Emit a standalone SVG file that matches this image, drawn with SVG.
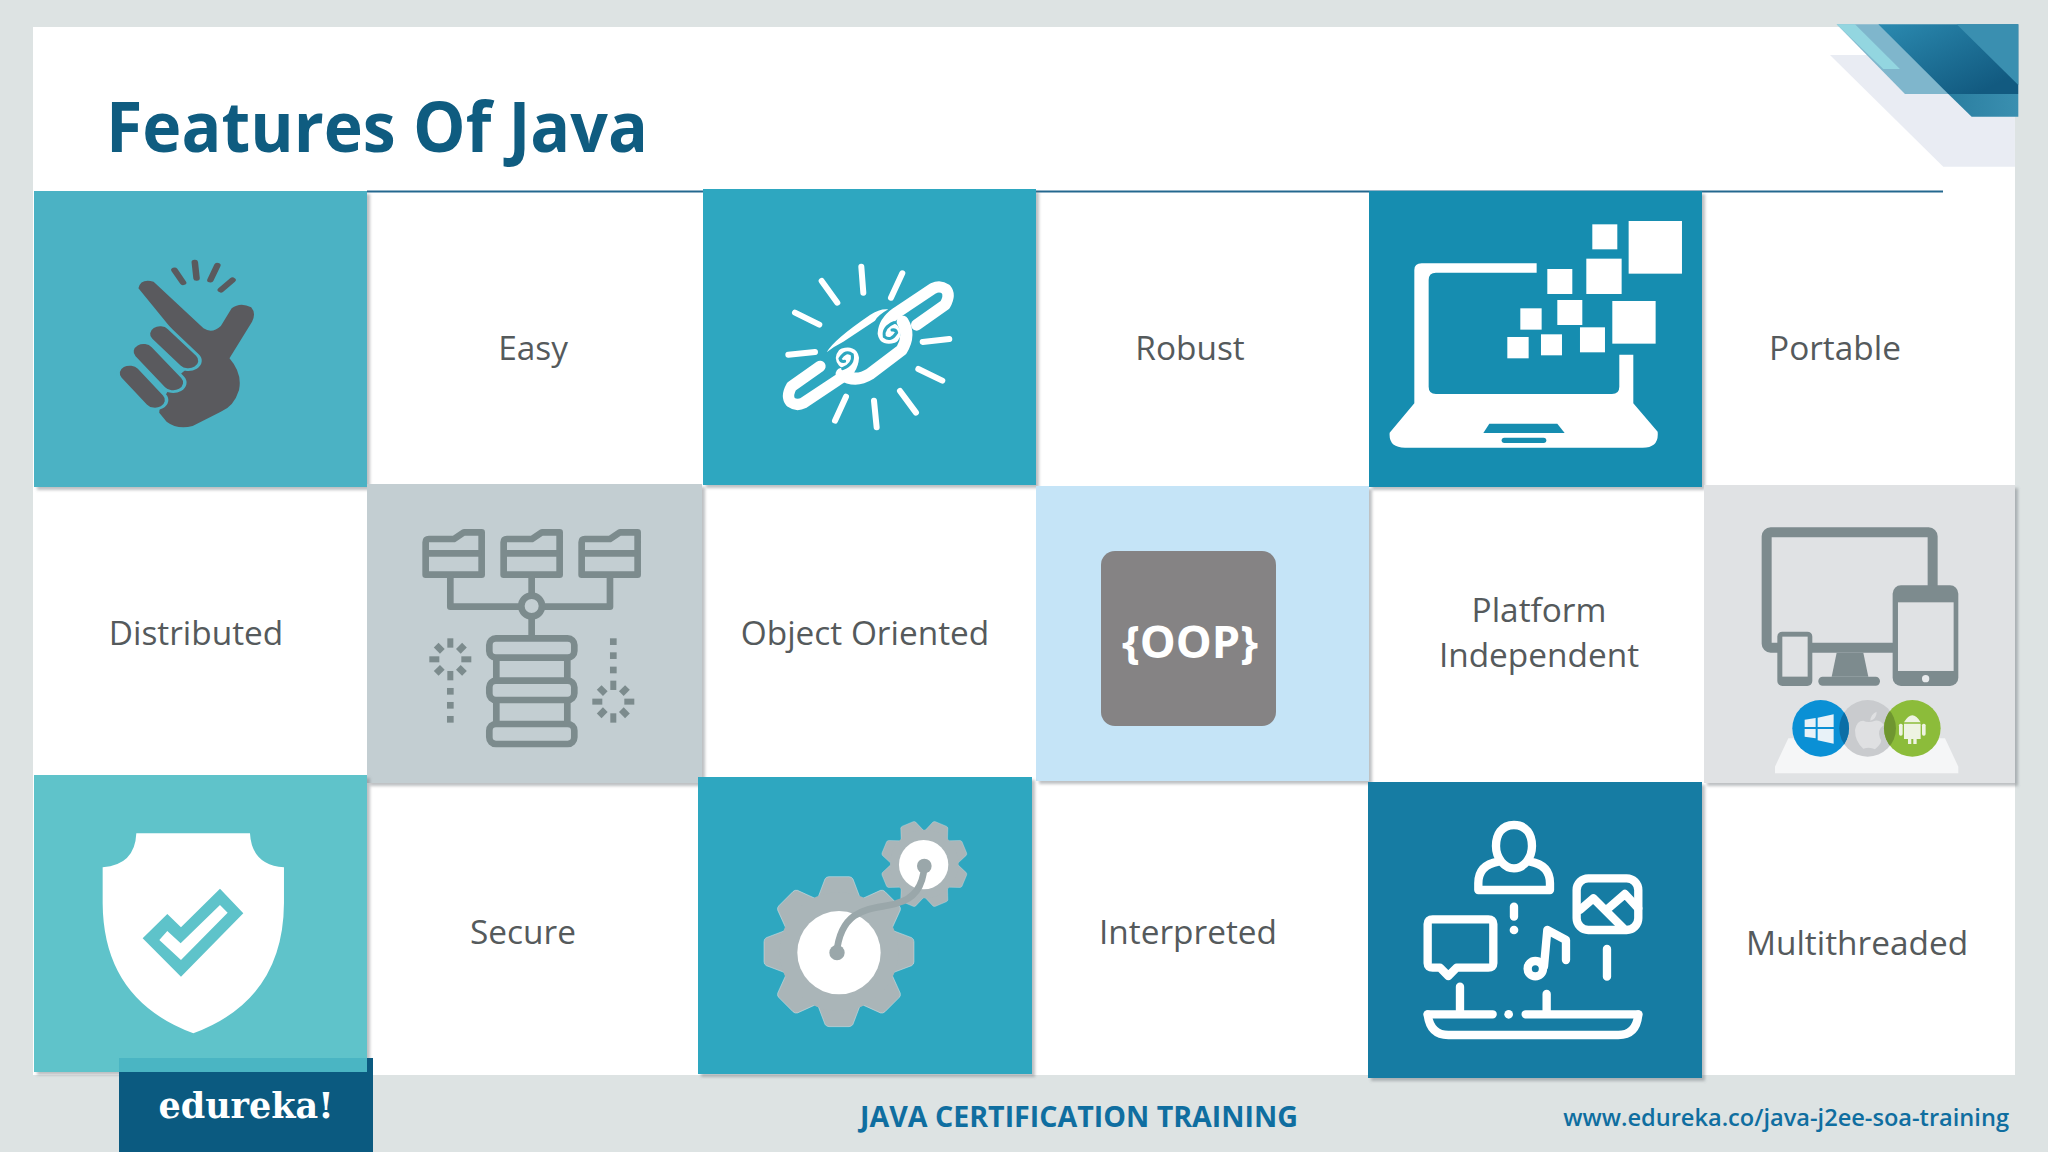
<svg xmlns="http://www.w3.org/2000/svg" xmlns:xlink="http://www.w3.org/1999/xlink" width="2048" height="1152" viewBox="0 0 2048 1152">
<style>
.lbl{font-family:"Open Sans","Noto Sans","Liberation Sans",sans-serif;font-size:33.400px;fill:#555a5c;text-anchor:middle}
.card{filter:url(#sh)}
.w{fill:#fff}
.sw{fill:none;stroke:#fff;stroke-linecap:round;stroke-linejoin:round}
.net{fill:none;stroke:#7c8b8d;stroke-width:20;stroke-linejoin:round}
.nf{fill:#7c8b8d}
.dev{fill:#7d8b8e}
.gear{fill:#aab5b8;stroke:#d8e6ea;stroke-width:1.5}
</style>
<defs>
<filter id="sh" x="-5%" y="-5%" width="110%" height="110%"><feDropShadow dx="3" dy="3" stdDeviation="1.5" flood-color="#6f7478" flood-opacity=".45"/></filter>
<linearGradient id="dk" x1="0" y1="0" x2="1" y2="1"><stop offset="0" stop-color="#2b8ab0"/><stop offset=".85" stop-color="#125a80"/></linearGradient>
<linearGradient id="lt" x1="0" y1="0" x2="1" y2="0"><stop offset="0" stop-color="#2a7ea0"/><stop offset="1" stop-color="#3a8fb0"/></linearGradient>
<g id="spark" class="nf">
<rect x="-9" y="-63" width="18" height="28"/><rect x="-9" y="35" width="18" height="28"/><rect x="-63" y="-9" width="30" height="18"/><rect x="33" y="-9" width="30" height="18"/>
<rect x="-10" y="-60" width="20" height="26" transform="rotate(45)"/><rect x="-10" y="-60" width="20" height="26" transform="rotate(135)"/><rect x="-10" y="-60" width="20" height="26" transform="rotate(225)"/><rect x="-10" y="-60" width="20" height="26" transform="rotate(315)"/>
</g>
<g id="folder"><path class="net" d="M207 177H282L312 157H365V284H197V187Q197 177 207 177Z"/><path class="net" d="M197 220H365"/></g>
<path id="tooth" d="M-62-165L-42-218Q-38-225-30-225H30Q38-225 42-218L62-165Z"/>
<g id="gearshape" class="gear"><use xlink:href="#tooth"/><use xlink:href="#tooth" transform="rotate(45)"/><use xlink:href="#tooth" transform="rotate(90)"/><use xlink:href="#tooth" transform="rotate(135)"/><use xlink:href="#tooth" transform="rotate(180)"/><use xlink:href="#tooth" transform="rotate(225)"/><use xlink:href="#tooth" transform="rotate(270)"/><use xlink:href="#tooth" transform="rotate(315)"/><circle r="178" stroke="none"/></g>
<path id="ulink" class="sw" stroke-width="34" d="M650 405L735 345Q752 315 738 298Q720 285 700 295L590 368Q552 395 550 430Q553 450 580 442Q590 430 580 418"/>
<path id="curl" fill="none" stroke="#2da7c0" stroke-width="9" stroke-linecap="round" d="M582 398Q548 412 553 440Q572 456 590 428Q588 418 576 420"/>
<clipPath id="cw"><circle cx="362" cy="745" r="85"/></clipPath>
<clipPath id="ca"><circle cx="637" cy="745" r="85"/></clipPath>
</defs>
<rect width="2048" height="1152" fill="#dde3e3"/>
<rect x="33" y="27" width="1982" height="1048" fill="#fff"/>
<g id="decor" transform="translate(1700 0) scale(.3333)">
<path fill="#e9ecf3" d="M390 165H945V500H730Z"/>
<path fill="#7fb6cc" d="M410 73H540L750 282H615Z"/>
<path fill="#93d6e0" d="M410 73H465L600 207H550Z"/>
<path fill="url(#lt)" d="M745 282H955V350H815Z"/>
<path fill="url(#dk)" d="M535 73H955V282H745Z"/>
<path fill="#3a8fb0" d="M770 73H955V255Z"/>
</g>
<text id="title" x="106" y="152" font-family="'Open Sans','Noto Sans',sans-serif" font-size="70" font-weight="700" fill="#0f5c80" textLength="542" lengthAdjust="spacingAndGlyphs">Features Of Java</text>
<path id="title-rule" d="M367 191.500H1943" stroke="#24688f" stroke-width="2"/>

<g id="easy-icon"><rect class="card" x="34" y="191" width="333" height="296" fill="#4bb2c4"/>
<g transform="translate(30 190) scale(.4337 .3333)">
<path fill="#5a5a5e" d="M250 295Q255 265 285 275L400 415Q420 432 440 408L465 355Q485 335 510 352Q522 370 512 395L460 505Q490 550 482 600Q470 650 440 665L375 708Q340 720 315 695L298 668L300 640L340 560L385 510Z"/>
<g fill="none" stroke-linecap="round">
<g stroke="#4bb2c4" stroke-width="62"><path d="M300 432L365 512"/><path d="M262 485L330 578"/><path d="M230 550L288 630"/></g>
<g stroke="#5a5a5e" stroke-width="46"><path d="M300 432L365 512"/><path d="M262 485L330 578"/><path d="M230 550L288 630"/></g>
<g stroke="#5a5a5e" stroke-width="15"><path d="M333 240L353 278"/><path d="M380 217L384 265"/><path d="M432 226L416 270"/><path d="M467 270L440 300"/></g>
</g></g></g>
<g id="easy"><text class="lbl" x="533" y="360">Easy</text></g>

<g id="robust-icon"><rect class="card" x="703" y="189" width="333" height="296" fill="#2da7c0"/>
<g transform="translate(700 190) scale(.3333)">
<g class="sw" stroke-width="18"><path d="M484 230L490 308"/><path d="M365 273L412 338"/><path d="M285 368L358 404"/><path d="M265 494L345 486"/><path d="M607 250L573 323"/><path d="M668 456L748 447"/><path d="M655 537L727 572"/><path d="M600 603L648 668"/><path d="M522 632L530 712"/><path d="M438 620L405 692"/></g>
<use xlink:href="#ulink"/><use xlink:href="#ulink" transform="rotate(180 505 467)"/>
<path class="sw" stroke-width="36" d="M608 395Q632 435 605 480L510 552Q465 580 425 552"/>
<path class="w" d="M380 487Q400 450 510 375Q540 355 565 358Q535 375 525 392L430 455Q400 470 380 487Z"/>
<use xlink:href="#curl"/><use xlink:href="#curl" transform="rotate(180 505 467)"/>
</g></g>
<g id="robust"><text class="lbl" x="1190" y="360">Robust</text></g>

<g id="portable-icon"><rect class="card" x="1369" y="191" width="333" height="296" fill="#168db0"/>
<g transform="translate(1360 190) scale(.3333)">
<path class="w" d="M163 240Q163 220 185 220H530V248H228Q206 248 206 270V590Q206 612 228 612H756Q778 612 778 590V494H820V640L893 725Q898 773 848 773H135Q85 773 89 728L163 640Z"/>
<path fill="#168db0" d="M388 701H592L614 729H370Z"/><rect x="425" y="743" width="134" height="16" rx="8" fill="#168db0"/>
<g class="w"><rect x="697" y="103" width="75" height="75"/><rect x="806" y="93" width="160" height="158"/><rect x="679" y="206" width="106" height="106"/><rect x="562" y="237" width="75" height="75"/><rect x="592" y="330" width="75" height="75"/><rect x="481" y="355" width="64" height="64"/><rect x="757" y="333" width="130" height="128"/><rect x="660" y="412" width="75" height="75"/><rect x="543" y="433" width="63" height="63"/><rect x="442" y="441" width="64" height="64"/></g>
</g></g>
<g id="portable"><text class="lbl" x="1835" y="360">Portable</text></g>

<g id="distributed"><text class="lbl" x="196" y="645">Distributed</text></g>
<g id="distributed-icon"><rect class="card" x="367" y="484" width="335" height="299" fill="#c3ced2"/>
<g transform="translate(360 480) scale(.3333)">
<use xlink:href="#folder"/><use xlink:href="#folder" x="234"/><use xlink:href="#folder" x="468"/>
<path class="net" d="M271 285V380H480M515 285V345M550 380H750V285M515 410V475"/>
<circle class="net" cx="515" cy="378" r="31"/>
<rect class="net" x="388" y="475" width="255" height="58" rx="20"/><rect class="net" x="388" y="602" width="255" height="58" rx="20"/><rect class="net" x="388" y="732" width="255" height="60" rx="20"/>
<path class="net" d="M409 533V602M622 533V602M409 660V732M622 660V732"/>
<use xlink:href="#spark" x="271" y="538"/><use xlink:href="#spark" x="760" y="665"/>
<g class="nf"><rect x="261" y="624" width="20" height="20"/><rect x="261" y="666" width="20" height="20"/><rect x="261" y="708" width="20" height="20"/><rect x="750" y="475" width="20" height="20"/><rect x="750" y="517" width="20" height="20"/><rect x="750" y="560" width="20" height="20"/></g>
</g></g>

<g id="object-oriented"><text class="lbl" x="865" y="645">Object Oriented</text></g>
<g id="oop-icon"><rect class="card" x="1036" y="486" width="333" height="295" fill="#c5e4f7"/>
<rect x="1101" y="551" width="175" height="175" rx="14" fill="#858384"/>
<text x="1122" y="658" font-family="'Open Sans','Noto Sans',sans-serif" font-size="44" font-weight="700" fill="#fff" textLength="136" lengthAdjust="spacingAndGlyphs">{OOP}</text></g>

<g id="platform-independent"><text class="lbl" x="1539" y="622">Platform</text><text class="lbl" x="1539" y="667">Independent</text></g>
<g id="platform-icon"><rect class="card" x="1704" y="485" width="311" height="298" fill="#e0e2e4"/>
<g transform="translate(1700 480) scale(.3333)">
<rect x="200" y="157" width="498" height="346" rx="12" fill="none" stroke="#7d8b8e" stroke-width="30"/>
<path class="dev" d="M410 518H490L505 590H395Z"/><rect class="dev" x="355" y="590" width="185" height="27" rx="13"/>
<rect class="dev" x="578" y="316" width="197" height="302" rx="25"/><rect x="594" y="367" width="167" height="206" fill="#e0e2e4"/><circle cx="677" cy="596" r="11" fill="#e8eaec"/>
<rect class="dev" x="232" y="455" width="105" height="163" rx="15"/><rect x="247" y="470" width="76" height="120" fill="#e0e2e4"/>
<path fill="#f5f6f7" d="M265 775H735L775 860V880H225V860Z"/>
<circle cx="503" cy="745" r="85" fill="#c9cbce"/>
<path fill="#dfe0e2" d="M511 722Q512 702 530 695Q530 716 511 722ZM490 722Q505 730 525 722Q540 720 552 735Q530 750 540 775Q552 785 525 808Q510 800 490 806Q465 785 465 750Q470 722 490 722Z"/>
<circle cx="362" cy="745" r="85" fill="#0a90d5"/>
<circle cx="637" cy="745" r="85" fill="#8cbc3a"/>
<circle cx="503" cy="745" r="85" fill="#0b6ea6" clip-path="url(#cw)"/>
<circle cx="503" cy="745" r="85" fill="#6f9630" clip-path="url(#ca)"/>
<path fill="#e8f2f8" d="M314 719L347 714V741H314ZM353 713L401 703V741H353ZM314 747H347V775L314 770ZM353 747H401V791L353 781Z"/>
<g fill="#eef3e2"><path d="M612 727Q637 685 662 727ZM612 731H662V777H650V792H640V777H634V792H624V777H612Z"/><rect x="597" y="731" width="11" height="36" rx="5"/><rect x="666" y="731" width="11" height="36" rx="5"/></g>
</g></g>

<g id="secure-icon"><rect class="card" x="34" y="775" width="333" height="297" fill="#5ec3ca"/>
<g transform="translate(30 770) scale(.3333)">
<path class="w" d="M319 190H660Q665 285 762 292V400Q760 690 490 790Q220 690 218 400V292Q315 285 319 190Z"/>
<path fill="#5ec3ca" d="M570 356L640 430L453 620L338 505L412 432L453 472Z"/>
<path class="w" d="M570 405L593 428L453 570L388 510L412 483L452 520Z"/>
</g></g>
<g id="secure"><text class="lbl" x="523" y="944">Secure</text></g>

<g id="interpreted-icon"><rect class="card" x="698" y="777" width="334" height="297" fill="#2da7c0"/>
<g transform="translate(690 770) scale(.3333)">
<use xlink:href="#gearshape" transform="translate(447 545)"/>
<use xlink:href="#gearshape" transform="translate(703 282) rotate(22.500) scale(.578)"/>
<circle cx="447" cy="548" r="125" fill="#fff"/><circle cx="701" cy="284" r="74" fill="#fff"/>
<path d="M440 548C455 400 560 420 620 400C680 385 700 340 703 288" fill="none" stroke="#9aa7aa" stroke-width="20"/>
<circle cx="441" cy="548" r="23" fill="#9aa7aa"/><circle cx="703" cy="288" r="22" fill="#9aa7aa"/>
</g></g>
<g id="interpreted"><text class="lbl" x="1188" y="944">Interpreted</text></g>

<g id="multithreaded-icon"><rect class="card" x="1368" y="782" width="334" height="296" fill="#167ca3"/>
<g transform="translate(1360 770) scale(.3333)">
<g class="sw" stroke-width="25">
<path d="M462 165C500 165 516 195 516 228C516 265 490 295 462 295C434 295 408 265 408 228C408 195 424 165 462 165Z"/>
<path d="M415 275Q355 285 355 340V360H570V340Q570 285 510 275"/>
<path d="M462 410V440"/>
<rect x="650" y="325" width="185" height="155" rx="35"/>
<path d="M660 420L700 385L790 475M745 415L795 372L835 415"/>
<path d="M230 448H385Q400 448 400 462V580Q400 593 385 593H290L265 618L240 593H218Q203 593 203 580V462Q203 448 218 448Z"/>
<circle cx="526" cy="596" r="23"/><path d="M552 590L562 480L618 510V570"/>
<path d="M741 537V620M300 650V730M560 672V730M203 733H398M497 733H835"/>
<path d="M203 733Q210 795 265 795H775Q830 795 835 733"/>
</g>
<circle cx="462" cy="480" r="13" fill="#fff"/><circle cx="446" cy="733" r="13" fill="#fff"/>
</g></g>
<g id="multithreaded"><text class="lbl" x="1857" y="955">Multithreaded</text></g>

<g id="logo"><rect x="119" y="1058" width="254" height="94" fill="#0b5a80"/><rect x="119" y="1058" width="248" height="14" fill="#4ab5c3"/>
<text x="246" y="1118" font-family="'DejaVu Serif','Liberation Serif',serif" font-size="35" font-weight="700" fill="#fff" text-anchor="middle">edureka!</text></g>
<text id="course" x="1079" y="1127" font-family="'Open Sans','Noto Sans',sans-serif" font-size="28.600" font-weight="700" fill="#0f6ea0" text-anchor="middle">JAVA CERTIFICATION TRAINING</text>
<text id="url" x="2009" y="1126" font-family="'Open Sans','Noto Sans',sans-serif" font-size="23.600" font-weight="600" fill="#0f6ea0" text-anchor="end">www.edureka.co/java-j2ee-soa-training</text>
</svg>
